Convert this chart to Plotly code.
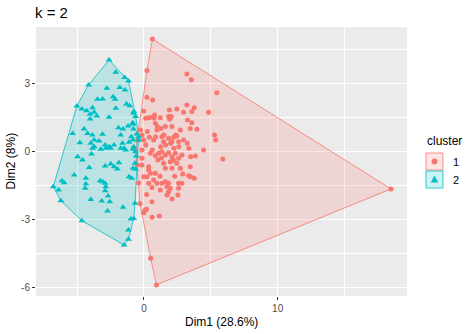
import plotly.graph_objects as go

# Cluster 1 (principal-component coordinates)
c1_dim1 = [0.63, 18.48, 0.93, 0.50, 0.22, 3.21, 3.54, 5.45, 0.22, 0.65, -0.02, 0.80, 0.35, 0.60,
           1.22, 1.90, 2.46, 3.21, 2.96, 3.58, 3.76, 4.83, 1.84, 2.04, 1.92, 0.85, 1.60, 1.27, 2.09,
           2.72, 3.26, 3.58, 3.46, 3.96, 5.28, 5.37, 0.97, 0.40, 0.72, 1.34, 1.84, 2.22, 2.46, 2.09,
           2.59, 2.96, 1.47, -0.02, -0.15, -0.27, 4.46, 5.90, 3.84, 3.46, 3.76, 3.34, 1.10, 1.34,
           1.60, 1.84, 2.09, 2.34, 2.59, 2.84, 1.04, 1.47, 1.97, 2.46, 2.72, 2.09, 1.60, 0.85, 0.35,
           0.48, -0.02, 0.22, 0.35, 0.72, 0.97, 1.34, 1.60, 1.84, 1.72, 1.97, 1.84, 1.72, 2.59, 2.84,
           2.59, 2.54, 1.22, 0.60, -0.30, 0.10, -0.02, 0.60, 1.15, 0.35, 0.48, -0.15, -0.15, -0.15,
           0.18, 0.87, 1.49, 2.37, 3.24, 0.13, 0.63, 3.49, 3.49, 0.13, 0.75, 1.00, 0.25, 1.25, 1.62,
           1.99, 2.24, 2.61, 3.36, 0.85, 1.30, 2.20, 2.90, 2.30, 1.20, 0.60, 2.10, 0.20, -0.62,
           -0.45, -0.50, -0.40]
c1_dim2 = [4.95, -1.66, -5.89, -4.72, 3.56, 3.41, 3.15, 2.58, 2.38, 2.26, 1.78, 1.60, 1.48, 1.50,
           1.48, 1.82, 1.87, 2.04, 1.72, 1.75, 1.92, 1.72, 1.53, 1.53, 1.41, 1.24, 1.09, 1.01, 1.09,
           0.94, 1.38, 1.26, 1.01, 0.97, 0.72, 0.50, 0.94, 0.62, 0.50, 0.64, 0.57, 0.62, 0.67, 0.42,
           0.42, 0.50, 0.42, 0.50, 0.72, 0.94, 0.06, -0.34, -0.21, -0.68, -1.19, -1.08, -0.09, -0.02,
           -0.16, -0.06, -0.24, -0.09, -0.31, -0.16, -0.38, -0.53, -0.46, -0.53, -0.75, -0.75, -0.75,
           -0.97, -0.68, -0.97, -1.12, -1.12, -1.41, -1.27, -1.41, -1.41, -1.34, -1.41, -1.56, -1.63,
           -1.78, -1.93, -1.41, -1.41, -1.63, -1.93, -1.71, -2.22, -2.30, -2.59, -2.71, -2.91, -2.85,
           -0.82, -0.09, 0.06, -0.31, -0.60, -2.56, 0.64, 0.72, 0.72, 0.35, 0.28, 0.06, -0.24, -1.12,
           1.46, 1.46, 1.09, 0.87, 0.20, 0.28, 0.35, 0.13, 0.20, 0.13, -0.20, -0.30, -0.40, -1.00,
           -1.10, -1.10, -1.60, -2.10, -1.90, 0.05, 0.50, -0.60, -1.40]

# Cluster 2
c2_dim1 = [-2.61, -2.11, -1.44, -1.16, -4.15, -2.78, -1.81, -1.42, -3.48, -3.10, -2.31, -2.16,
           -1.31, -1.07, -5.02, -4.65, -4.30, -3.85, -3.73, -4.03, -3.53, -4.03, -2.61, -2.11, -0.75,
           -0.62, -5.34, -4.48, -4.22, -3.85, -3.10, -1.91, -1.57, -1.19, -0.82, -0.79, -4.80, -3.98,
           -3.36, -2.91, -2.61, -2.24, -1.61, -1.12, -0.82, -0.54, -3.85, -3.23, -1.37, -0.82, -3.73,
           -2.86, -2.49, -1.74, -1.49, -3.73, -1.74, -0.94, -3.93, -4.97, -4.60, -4.10, -5.22, -4.35,
           -2.91, -2.49, -2.24, -1.99, -1.87, -1.12, -0.92, -0.82, -0.62, -0.67, -0.57, -6.79, -6.14,
           -5.97, -6.39, -6.22, -4.35, -4.40, -3.28, -3.10, -2.91, -2.86, -2.91, -2.69, -3.98, -3.16,
           -2.56, -2.73, -1.57, -0.67, -4.65, -0.99, -1.16, -1.16, -1.49, -0.77, -0.84, -0.40, -0.40,
           -0.77, -0.64, -0.77]
c2_dim2 = [4.03, 3.48, 3.25, 3.10, 2.92, 2.78, 2.81, 2.70, 2.29, 2.31, 2.41, 2.29, 2.09, 2.01,
           2.00, 1.87, 1.79, 1.92, 1.72, 1.63, 1.56, 1.42, 1.50, 1.90, 1.75, 1.53, 0.79, 0.98, 0.79,
           0.72, 0.75, 1.04, 0.98, 1.12, 1.19, 0.98, 0.38, 0.35, 0.45, 0.28, 0.20, 0.28, 0.35, 0.40,
           0.50, 0.76, 0.13, 0.09, 0.06, 0.09, 0.20, 0.13, 0.13, 0.13, 0.13, 0.50, 0.72, 0.64, -0.12,
           -0.24, -0.38, -0.71, -1.05, -1.19, -0.65, -0.56, -0.68, -0.78, -0.50, -1.12, -1.19, -0.75,
           -0.79, -0.53, -0.21, -1.56, -1.30, -1.39, -1.71, -2.18, -1.44, -1.63, -1.30, -1.34, -1.41,
           -1.56, -1.74, -1.97, -2.12, -2.19, -2.22, -2.63, -2.47, -2.29, -3.06, -2.99, -3.47, -3.88,
           -4.13, 1.68, 1.26, 0.64, 0.50, 0.20, -0.02, -2.96]

cluster_labels = ["1", "2"]
cluster_colors = ["#F8766D", "#00BFC4"]
cluster_fills = ["rgba(248,118,109,0.2)", "rgba(0,191,196,0.2)"]

X_RANGE = [-8.08, 19.68]
Y_RANGE = [-6.38, 5.48]


def convex_hull(xs, ys):
    pts = sorted(set(zip(xs, ys)))

    def cross(o, a, b):
        return (a[0] - o[0]) * (b[1] - o[1]) - (a[1] - o[1]) * (b[0] - o[0])

    lower, upper = [], []
    for p in pts:
        while len(lower) >= 2 and cross(lower[-2], lower[-1], p) <= 0:
            lower.pop()
        lower.append(p)
    for p in reversed(pts):
        while len(upper) >= 2 and cross(upper[-2], upper[-1], p) <= 0:
            upper.pop()
        upper.append(p)
    hull = lower[:-1] + upper[:-1]
    hull.append(hull[0])
    return [p[0] for p in hull], [p[1] for p in hull]


fig = go.Figure()

groups = [(c1_dim1, c1_dim2), (c2_dim1, c2_dim2)]
symbols = ["circle", "triangle-up"]
sizes = [5, 6]

# convex hull polygons
for (xs, ys), col, fill in zip(groups, cluster_colors, cluster_fills):
    hx, hy = convex_hull(xs, ys)
    fig.add_trace(go.Scatter(x=hx, y=hy, mode="lines", fill="toself", fillcolor=fill,
                             line=dict(color=col, width=0.8), hoverinfo="skip",
                             showlegend=False))

# observations
for (xs, ys), col, sym, sz, lab in zip(groups, cluster_colors, symbols, sizes, cluster_labels):
    fig.add_trace(go.Scatter(x=xs, y=ys, mode="markers", name=lab,
                             marker=dict(color=col, symbol=sym, size=sz, line=dict(width=0)),
                             showlegend=False))

W, H = 474, 334
L, R, T, B = 36, 67, 27, 38
pw, ph = W - L - R, H - T - B


def px_x(p):
    return (p - L) / pw


def px_y(p):
    return (H - B - p) / ph


tick_font = dict(family="Liberation Sans, Arial, sans-serif", size=10, color="#4D4D4D")

fig.update_layout(
    width=W, height=H,
    margin=dict(l=L, r=R, t=T, b=B),
    paper_bgcolor="white",
    plot_bgcolor="#EBEBEB",
    font=dict(family="Liberation Sans, Arial, sans-serif", color="black"),
    title=dict(text="k = 2", x=35 / W, xanchor="left", xref="container",
               y=1 - 13 / H, yanchor="middle", yref="container",
               font=dict(size=15, color="black")),
    showlegend=False,
    xaxis=dict(range=X_RANGE, tickvals=[0, 10], ticktext=["0", "10"], showgrid=True,
               gridcolor="white", gridwidth=1.2, zeroline=False, ticks="outside", ticklen=3,
               tickcolor="#333333", tickwidth=1, tickfont=tick_font, showline=False,
               minor=dict(tickvals=[-5, 5, 15], showgrid=True, gridcolor="white",
                          gridwidth=0.6, ticks="")),
    yaxis=dict(range=Y_RANGE, tickvals=[-6, -3, 0, 3], ticktext=["-6", "-3", "0", "3"],
               showgrid=True, gridcolor="white", gridwidth=1.2, zeroline=False,
               ticks="outside", ticklen=3, tickcolor="#333333", tickwidth=1,
               tickfont=tick_font, showline=False,
               minor=dict(tickvals=[-4.5, -1.5, 1.5, 4.5], showgrid=True, gridcolor="white",
                          gridwidth=0.6, ticks="")),
)

annotations = [
    dict(text="Dim1 (28.6%)", x=0.5, y=px_y(322), xref="paper", yref="paper",
         showarrow=False, xanchor="center", yanchor="middle", font=dict(size=12)),
    dict(text="Dim2 (8%)", x=px_x(10), y=0.5, xref="paper", yref="paper", textangle=-90,
         showarrow=False, xanchor="center", yanchor="middle", font=dict(size=12)),
    dict(text="cluster", x=px_x(425), y=px_y(141), xref="paper", yref="paper",
         showarrow=False, xanchor="left", yanchor="middle", font=dict(size=12)),
]

shapes = []
key_tops = [153, 171]
for i, (lab, col, fill) in enumerate(zip(cluster_labels, cluster_colors, cluster_fills)):
    top = key_tops[i]
    bottom = top + 17
    x0, x1 = 426, 443
    shapes.append(dict(type="rect", xref="paper", yref="paper",
                       x0=px_x(x0), x1=px_x(x1), y0=px_y(bottom), y1=px_y(top),
                       fillcolor=fill, line=dict(color=col, width=0.8), layer="above"))
    cx, cy = (x0 + x1) / 2, (top + bottom) / 2
    if i == 0:
        shapes.append(dict(type="circle", xref="paper", yref="paper",
                           x0=px_x(cx - 3), x1=px_x(cx + 3), y0=px_y(cy + 3), y1=px_y(cy - 3),
                           fillcolor=col, line=dict(width=0), layer="above"))
    else:
        path = "M {} {} L {} {} L {} {} Z".format(
            px_x(cx - 3.8), px_y(cy + 3), px_x(cx + 3.8), px_y(cy + 3), px_x(cx), px_y(cy - 4))
        shapes.append(dict(type="path", xref="paper", yref="paper", path=path,
                           fillcolor=col, line=dict(width=0), layer="above"))
    annotations.append(dict(text=lab, x=px_x(451), y=px_y(cy), xref="paper", yref="paper",
                            showarrow=False, xanchor="left", yanchor="middle",
                            font=dict(size=11)))

fig.update_layout(annotations=annotations, shapes=shapes)

fig.write_html("out.html")
